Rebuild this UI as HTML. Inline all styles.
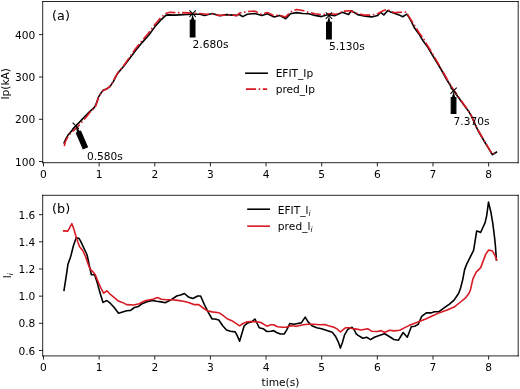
<!DOCTYPE html>
<html><head><meta charset="utf-8"><style>html,body{margin:0;padding:0;background:#fff;overflow:hidden}svg{display:block}</style></head>
<body>
<svg width="520" height="389" viewBox="0 0 520 389" version="1.1">
 <defs>
  <style type="text/css">*{stroke-linejoin: round; stroke-linecap: butt}</style>
 </defs>
 <g id="figure_1">
  <g id="patch_1">
   <path d="M 0 389 L 520 389 L 520 0 L 0 0 z
" style="fill: #ffffff"/>
  </g>
  <g id="axes_1">
   <g id="patch_2">
    <path d="M 42.7 162.7 L 518.2 162.7 L 518.2 1.5 L 42.7 1.5 z
" style="fill: #ffffff"/>
   </g>
   <g id="matplotlib.axis_1">
    <g id="xtick_1">
     <g id="line2d_1">
      <g>
       <path d="M 0 0 L 0 3.71875" transform="translate(43.5 162.7)" style="stroke: #000000; stroke-width: 0.85"/>
      </g>
     </g>
     <g id="text_1">
      <text style="font-size: 10.625px; font-family: 'DejaVu Sans', 'Liberation Sans', sans-serif; text-anchor: middle" x="43.5" y="178.21084" transform="rotate(-0 43.5 178.21084)">0</text>
     </g>
    </g>
    <g id="xtick_2">
     <g id="line2d_2">
      <g>
       <path d="M 0 0 L 0 3.71875" transform="translate(99.14 162.7)" style="stroke: #000000; stroke-width: 0.85"/>
      </g>
     </g>
     <g id="text_2">
      <text style="font-size: 10.625px; font-family: 'DejaVu Sans', 'Liberation Sans', sans-serif; text-anchor: middle" x="99.14" y="178.21084" transform="rotate(-0 99.14 178.21084)">1</text>
     </g>
    </g>
    <g id="xtick_3">
     <g id="line2d_3">
      <g>
       <path d="M 0 0 L 0 3.71875" transform="translate(154.78 162.7)" style="stroke: #000000; stroke-width: 0.85"/>
      </g>
     </g>
     <g id="text_3">
      <text style="font-size: 10.625px; font-family: 'DejaVu Sans', 'Liberation Sans', sans-serif; text-anchor: middle" x="154.78" y="178.21084" transform="rotate(-0 154.78 178.21084)">2</text>
     </g>
    </g>
    <g id="xtick_4">
     <g id="line2d_4">
      <g>
       <path d="M 0 0 L 0 3.71875" transform="translate(210.42 162.7)" style="stroke: #000000; stroke-width: 0.85"/>
      </g>
     </g>
     <g id="text_4">
      <text style="font-size: 10.625px; font-family: 'DejaVu Sans', 'Liberation Sans', sans-serif; text-anchor: middle" x="210.42" y="178.21084" transform="rotate(-0 210.42 178.21084)">3</text>
     </g>
    </g>
    <g id="xtick_5">
     <g id="line2d_5">
      <g>
       <path d="M 0 0 L 0 3.71875" transform="translate(266.06 162.7)" style="stroke: #000000; stroke-width: 0.85"/>
      </g>
     </g>
     <g id="text_5">
      <text style="font-size: 10.625px; font-family: 'DejaVu Sans', 'Liberation Sans', sans-serif; text-anchor: middle" x="266.06" y="178.21084" transform="rotate(-0 266.06 178.21084)">4</text>
     </g>
    </g>
    <g id="xtick_6">
     <g id="line2d_6">
      <g>
       <path d="M 0 0 L 0 3.71875" transform="translate(321.7 162.7)" style="stroke: #000000; stroke-width: 0.85"/>
      </g>
     </g>
     <g id="text_6">
      <text style="font-size: 10.625px; font-family: 'DejaVu Sans', 'Liberation Sans', sans-serif; text-anchor: middle" x="321.7" y="178.21084" transform="rotate(-0 321.7 178.21084)">5</text>
     </g>
    </g>
    <g id="xtick_7">
     <g id="line2d_7">
      <g>
       <path d="M 0 0 L 0 3.71875" transform="translate(377.34 162.7)" style="stroke: #000000; stroke-width: 0.85"/>
      </g>
     </g>
     <g id="text_7">
      <text style="font-size: 10.625px; font-family: 'DejaVu Sans', 'Liberation Sans', sans-serif; text-anchor: middle" x="377.34" y="178.21084" transform="rotate(-0 377.34 178.21084)">6</text>
     </g>
    </g>
    <g id="xtick_8">
     <g id="line2d_8">
      <g>
       <path d="M 0 0 L 0 3.71875" transform="translate(432.98 162.7)" style="stroke: #000000; stroke-width: 0.85"/>
      </g>
     </g>
     <g id="text_8">
      <text style="font-size: 10.625px; font-family: 'DejaVu Sans', 'Liberation Sans', sans-serif; text-anchor: middle" x="432.98" y="178.21084" transform="rotate(-0 432.98 178.21084)">7</text>
     </g>
    </g>
    <g id="xtick_9">
     <g id="line2d_9">
      <g>
       <path d="M 0 0 L 0 3.71875" transform="translate(488.62 162.7)" style="stroke: #000000; stroke-width: 0.85"/>
      </g>
     </g>
     <g id="text_9">
      <text style="font-size: 10.625px; font-family: 'DejaVu Sans', 'Liberation Sans', sans-serif; text-anchor: middle" x="488.62" y="178.21084" transform="rotate(-0 488.62 178.21084)">8</text>
     </g>
    </g>
   </g>
   <g id="matplotlib.axis_2">
    <g id="ytick_1">
     <g id="line2d_10">
      <g>
       <path d="M 0 0 L -3.71875 0" transform="translate(42.7 161.6)" style="stroke: #000000; stroke-width: 0.85"/>
      </g>
     </g>
     <g id="text_10">
      <text style="font-size: 10.625px; font-family: 'DejaVu Sans', 'Liberation Sans', sans-serif; text-anchor: end" x="35.2625" y="165.63667" transform="rotate(-0 35.2625 165.63667)">100</text>
     </g>
    </g>
    <g id="ytick_2">
     <g id="line2d_11">
      <g>
       <path d="M 0 0 L -3.71875 0" transform="translate(42.7 119.28)" style="stroke: #000000; stroke-width: 0.85"/>
      </g>
     </g>
     <g id="text_11">
      <text style="font-size: 10.625px; font-family: 'DejaVu Sans', 'Liberation Sans', sans-serif; text-anchor: end" x="35.2625" y="123.31667" transform="rotate(-0 35.2625 123.31667)">200</text>
     </g>
    </g>
    <g id="ytick_3">
     <g id="line2d_12">
      <g>
       <path d="M 0 0 L -3.71875 0" transform="translate(42.7 76.96)" style="stroke: #000000; stroke-width: 0.85"/>
      </g>
     </g>
     <g id="text_12">
      <text style="font-size: 10.625px; font-family: 'DejaVu Sans', 'Liberation Sans', sans-serif; text-anchor: end" x="35.2625" y="80.99667" transform="rotate(-0 35.2625 80.99667)">300</text>
     </g>
    </g>
    <g id="ytick_4">
     <g id="line2d_13">
      <g>
       <path d="M 0 0 L -3.71875 0" transform="translate(42.7 34.64)" style="stroke: #000000; stroke-width: 0.85"/>
      </g>
     </g>
     <g id="text_13">
      <text style="font-size: 10.625px; font-family: 'DejaVu Sans', 'Liberation Sans', sans-serif; text-anchor: end" x="35.2625" y="38.67667" transform="rotate(-0 35.2625 38.67667)">400</text>
     </g>
    </g>
    <g id="ylab1" transform="translate(0 1.70)">
     <text style="font-size: 10.625px; font-family: 'DejaVu Sans', 'Liberation Sans', sans-serif; text-anchor: middle" x="8.522363" y="82.1" transform="rotate(-90 8.522363 82.1)">Ip(kA)</text>
    </g>
   </g>
   <g id="line2d_14">
    <path d="M 64.1 142.9 L 66.1 138.4 L 67.9 135.3 L 71.5 131 L 75.5 126.3 L 78.7 123 L 81.9 119.6 L 85 116.3 L 89.7 111.6 L 93.6 108.2 L 95.4 105.8 L 97.1 101.3 L 98.3 97.4 L 101 92.9 L 103.4 90 L 106.4 89.1 L 109.9 86.6 L 113.3 81.6 L 115.8 76.6 L 118.2 72.6 L 122.9 67.3 L 129.4 58.8 L 135.8 50.2 L 142.1 42.6 L 148.9 35 L 155 26.6 L 160.4 20.4 L 165.8 15.4 L 168.1 14.9 L 175.4 15.1 L 183.1 14.6 L 192.3 14.2 L 200 14.2 L 204.6 15.4 L 212.3 13.5 L 220 15.7 L 226.2 14.6 L 232.3 15.1 L 236.9 15.4 L 238.8 14.2 L 242.7 16.6 L 247.3 14.2 L 255 13.5 L 261.9 15.4 L 267.3 13.8 L 274.2 16.9 L 279.6 15.4 L 285.8 18.8 L 290.4 13.8 L 296.5 12.6 L 302.7 13.5 L 308.8 13.8 L 315 15.4 L 321.5 16.6 L 328.5 14.6 L 334.6 15.7 L 342.3 12.3 L 348.5 14.6 L 351.5 10.8 L 357.7 14.6 L 365.4 16.2 L 371.5 16.9 L 377.7 15.4 L 380.8 12.3 L 383.8 15 L 387.8 10.5 L 390.7 12 L 394.9 13.4 L 399.1 14.9 L 402.7 16.7 L 406.9 14.1 L 410.5 19.8 L 414.7 28.3 L 418.9 33.9 L 423.2 41 L 427.4 46.7 L 432.4 55 L 440 67.5 L 447 80 L 453.3 90.3 L 456.7 95 L 463.4 104.2 L 468.4 110.9 L 471.7 116.7 L 475.1 124.3 L 478 130.5 L 483.5 140 L 488.1 147.7 L 492.3 154.7 L 496.4 152.2 
" style="fill: none; stroke: #000000; stroke-width: 1.59375; stroke-linecap: square"/>
   </g>
   <g id="line2d_15">
    <path d="M 64.3 146.1 L 65.2 142 L 67 138.4 L 69.7 134.4 L 73.3 130.8 L 76.9 127.6 L 80.5 123.6 L 84.1 119.5 L 86.8 116.4 L 89.9 112.3 L 93.8 108.6 L 95.6 106.2 L 97.3 101.5 L 98.5 97.6 L 101.1 93.1 L 103.4 90.2 L 106.4 89.2 L 109.9 86.5 L 113.3 81.3 L 115.8 76.2 L 118.2 72.2 L 122.8 66.8 L 128.8 58.4 L 135.1 49.2 L 141.4 41.5 L 148 33.7 L 154.1 25.4 L 159.4 19.2 L 163 15.8 L 165.7 13.4 L 169.7 12.3 L 175.4 12.6 L 183.1 12.6 L 192.3 13.1 L 200 13.5 L 206.2 14.2 L 212.3 13.8 L 218.5 15.4 L 224.6 15.1 L 230.8 14.6 L 236.9 15.7 L 239.6 13.1 L 247.3 11.5 L 255 11.1 L 261.2 14.2 L 267.3 12.6 L 273.5 15.4 L 279.6 15.4 L 285.8 16.9 L 290.4 12 L 296.5 9.5 L 302.7 10.5 L 308.8 12.3 L 315 13.8 L 322.3 14.6 L 328.5 13.8 L 336.2 14.2 L 343.8 11.1 L 350 10.8 L 356.2 13.1 L 363.8 15.1 L 371.5 15.1 L 377.7 13.8 L 382.3 11.1 L 387.3 9.3 L 390.7 11.3 L 394.9 12.7 L 398.4 12.4 L 406.2 12 L 408.3 15.6 L 411.9 21.2 L 415.4 26.9 L 418.9 32.5 L 423.2 38.2 L 427.4 45.3 L 431.7 52.3 L 440 66.5 L 447 79 L 453.3 89.5 L 456.7 94.5 L 463.4 103.8 L 468.4 110.5 L 471.7 116.3 L 475.1 123.8 L 478 130 L 483.5 139.5 L 488.1 147.2 L 492.3 154.3 L 496.6 151.8 
" style="fill: none; stroke-dasharray: 10.2,2.55,1.59375,2.55; stroke-dashoffset: 0; stroke: #d81a24; stroke-width: 1.59375"/>
   </g>
   <g id="line2d_16">
    <g>
     <path d="M -3.1875 3.1875 L 3.1875 -3.1875 M -3.1875 -3.1875 L 3.1875 3.1875" transform="translate(75.7712 125.8)" style="stroke: #000000; stroke-width: 1.0625"/>
    </g>
   </g>
   <g id="line2d_17">
    <g>
     <path d="M -3.1875 3.1875 L 3.1875 -3.1875 M -3.1875 -3.1875 L 3.1875 3.1875" transform="translate(192.6152 13.6)" style="stroke: #000000; stroke-width: 1.0625"/>
    </g>
   </g>
   <g id="line2d_18">
    <g>
     <path d="M -3.1875 3.1875 L 3.1875 -3.1875 M -3.1875 -3.1875 L 3.1875 3.1875" transform="translate(328.9332 15.6)" style="stroke: #000000; stroke-width: 1.0625"/>
    </g>
   </g>
   <g id="line2d_19">
    <g>
     <path d="M -3.1875 3.1875 L 3.1875 -3.1875 M -3.1875 -3.1875 L 3.1875 3.1875" transform="translate(453.5668 90.8)" style="stroke: #000000; stroke-width: 1.0625"/>
    </g>
   </g>
   <g id="patch_3">
    <path d="M 42.7 162.7 L 42.7 1.5 
" style="fill: none; stroke: #000000; stroke-width: 0.85; stroke-linejoin: miter; stroke-linecap: square"/>
   </g>
   <g id="patch_4">
    <path d="M 518.2 162.7 L 518.2 1.5 
" style="fill: none; stroke: #000000; stroke-width: 0.85; stroke-linejoin: miter; stroke-linecap: square"/>
   </g>
   <g id="patch_5">
    <path d="M 42.7 162.7 L 518.2 162.7 
" style="fill: none; stroke: #000000; stroke-width: 0.85; stroke-linejoin: miter; stroke-linecap: square"/>
   </g>
   <g id="patch_6">
    <path d="M 42.7 1.5 L 518.2 1.5 
" style="fill: none; stroke: #000000; stroke-width: 0.85; stroke-linejoin: miter; stroke-linecap: square"/>
   </g>
   <g id="text_14">
    <text style="font-size: 12.75px; font-family: 'DejaVu Sans', 'Liberation Sans', sans-serif; text-anchor: start" x="52.1" y="20.3" transform="rotate(-0 52.1 20.3)">(a)</text>
   </g>
   <g id="text_15">
    <text style="font-size: 10.625px; font-family: 'DejaVu Sans', 'Liberation Sans', sans-serif; text-anchor: start" x="86.9" y="160.2" transform="rotate(-0 86.9 160.2)">0.580s</text>
   </g>
   <g id="text_16">
    <text style="font-size: 10.625px; font-family: 'DejaVu Sans', 'Liberation Sans', sans-serif; text-anchor: start" x="192.6" y="48.46" transform="rotate(-0 192.6 48.46)">2.680s</text>
   </g>
   <g id="text_17">
    <text style="font-size: 10.625px; font-family: 'DejaVu Sans', 'Liberation Sans', sans-serif; text-anchor: start" x="328.9" y="50.46" transform="rotate(-0 328.9 50.46)">5.130s</text>
   </g>
   <g id="text_18">
    <text style="font-size: 10.625px; font-family: 'DejaVu Sans', 'Liberation Sans', sans-serif; text-anchor: start" x="453.6" y="124.9" transform="rotate(-0 453.6 124.9)">7.370s</text>
   </g>
   <g id="legend_1">
    <g id="line2d_20">
     <path d="M 245.900488 73.219824 L 256.525488 73.219824 L 267.150488 73.219824 
" style="fill: none; stroke: #000000; stroke-width: 1.59375; stroke-linecap: square"/>
    </g>
    <g id="leg1text0" transform="translate(0 0.50)">
     <text style="font-size: 10.625px; font-family: 'DejaVu Sans', 'Liberation Sans', sans-serif; text-anchor: start" x="275.650488" y="76.938574" transform="rotate(-0 275.650488 76.938574)">EFIT_Ip</text>
    </g>
    <g id="line2d_21">
     <path d="M 245.900488 89.11084 L 256.525488 89.11084 L 267.150488 89.11084 
" style="fill: none; stroke-dasharray: 10.2,2.55,1.59375,2.55; stroke-dashoffset: 0; stroke: #d81a24; stroke-width: 1.59375"/>
    </g>
    <g id="leg1text1" transform="translate(0 0.50)">
     <text style="font-size: 10.625px; font-family: 'DejaVu Sans', 'Liberation Sans', sans-serif; text-anchor: start" x="275.650488" y="92.82959" transform="rotate(-0 275.650488 92.82959)">pred_Ip</text>
    </g>
   </g>
  </g>
  <g id="axes_2">
   <g id="patch_7">
    <path d="M 42.7 355.9 L 518.2 355.9 L 518.2 195.3 L 42.7 195.3 z
" style="fill: #ffffff"/>
   </g>
   <g id="matplotlib.axis_3">
    <g id="xtick_10">
     <g id="line2d_22">
      <g>
       <path d="M 0 0 L 0 3.71875" transform="translate(43.5 355.9)" style="stroke: #000000; stroke-width: 0.85"/>
      </g>
     </g>
     <g id="text_19">
      <text style="font-size: 10.625px; font-family: 'DejaVu Sans', 'Liberation Sans', sans-serif; text-anchor: middle" x="43.5" y="371.41084" transform="rotate(-0 43.5 371.41084)">0</text>
     </g>
    </g>
    <g id="xtick_11">
     <g id="line2d_23">
      <g>
       <path d="M 0 0 L 0 3.71875" transform="translate(99.14 355.9)" style="stroke: #000000; stroke-width: 0.85"/>
      </g>
     </g>
     <g id="text_20">
      <text style="font-size: 10.625px; font-family: 'DejaVu Sans', 'Liberation Sans', sans-serif; text-anchor: middle" x="99.14" y="371.41084" transform="rotate(-0 99.14 371.41084)">1</text>
     </g>
    </g>
    <g id="xtick_12">
     <g id="line2d_24">
      <g>
       <path d="M 0 0 L 0 3.71875" transform="translate(154.78 355.9)" style="stroke: #000000; stroke-width: 0.85"/>
      </g>
     </g>
     <g id="text_21">
      <text style="font-size: 10.625px; font-family: 'DejaVu Sans', 'Liberation Sans', sans-serif; text-anchor: middle" x="154.78" y="371.41084" transform="rotate(-0 154.78 371.41084)">2</text>
     </g>
    </g>
    <g id="xtick_13">
     <g id="line2d_25">
      <g>
       <path d="M 0 0 L 0 3.71875" transform="translate(210.42 355.9)" style="stroke: #000000; stroke-width: 0.85"/>
      </g>
     </g>
     <g id="text_22">
      <text style="font-size: 10.625px; font-family: 'DejaVu Sans', 'Liberation Sans', sans-serif; text-anchor: middle" x="210.42" y="371.41084" transform="rotate(-0 210.42 371.41084)">3</text>
     </g>
    </g>
    <g id="xtick_14">
     <g id="line2d_26">
      <g>
       <path d="M 0 0 L 0 3.71875" transform="translate(266.06 355.9)" style="stroke: #000000; stroke-width: 0.85"/>
      </g>
     </g>
     <g id="text_23">
      <text style="font-size: 10.625px; font-family: 'DejaVu Sans', 'Liberation Sans', sans-serif; text-anchor: middle" x="266.06" y="371.41084" transform="rotate(-0 266.06 371.41084)">4</text>
     </g>
    </g>
    <g id="xtick_15">
     <g id="line2d_27">
      <g>
       <path d="M 0 0 L 0 3.71875" transform="translate(321.7 355.9)" style="stroke: #000000; stroke-width: 0.85"/>
      </g>
     </g>
     <g id="text_24">
      <text style="font-size: 10.625px; font-family: 'DejaVu Sans', 'Liberation Sans', sans-serif; text-anchor: middle" x="321.7" y="371.41084" transform="rotate(-0 321.7 371.41084)">5</text>
     </g>
    </g>
    <g id="xtick_16">
     <g id="line2d_28">
      <g>
       <path d="M 0 0 L 0 3.71875" transform="translate(377.34 355.9)" style="stroke: #000000; stroke-width: 0.85"/>
      </g>
     </g>
     <g id="text_25">
      <text style="font-size: 10.625px; font-family: 'DejaVu Sans', 'Liberation Sans', sans-serif; text-anchor: middle" x="377.34" y="371.41084" transform="rotate(-0 377.34 371.41084)">6</text>
     </g>
    </g>
    <g id="xtick_17">
     <g id="line2d_29">
      <g>
       <path d="M 0 0 L 0 3.71875" transform="translate(432.98 355.9)" style="stroke: #000000; stroke-width: 0.85"/>
      </g>
     </g>
     <g id="text_26">
      <text style="font-size: 10.625px; font-family: 'DejaVu Sans', 'Liberation Sans', sans-serif; text-anchor: middle" x="432.98" y="371.41084" transform="rotate(-0 432.98 371.41084)">7</text>
     </g>
    </g>
    <g id="xtick_18">
     <g id="line2d_30">
      <g>
       <path d="M 0 0 L 0 3.71875" transform="translate(488.62 355.9)" style="stroke: #000000; stroke-width: 0.85"/>
      </g>
     </g>
     <g id="text_27">
      <text style="font-size: 10.625px; font-family: 'DejaVu Sans', 'Liberation Sans', sans-serif; text-anchor: middle" x="488.62" y="371.41084" transform="rotate(-0 488.62 371.41084)">8</text>
     </g>
    </g>
    <g id="text_28">
     <text style="font-size: 10.625px; font-family: 'DejaVu Sans', 'Liberation Sans', sans-serif; text-anchor: middle" x="280.45" y="385.943848" transform="rotate(-0 280.45 385.943848)">time(s)</text>
    </g>
   </g>
   <g id="matplotlib.axis_4">
    <g id="ytick_5">
     <g id="line2d_31">
      <g>
       <path d="M 0 0 L -3.71875 0" transform="translate(42.7 350.5)" style="stroke: #000000; stroke-width: 0.85"/>
      </g>
     </g>
     <g id="text_29">
      <text style="font-size: 10.625px; font-family: 'DejaVu Sans', 'Liberation Sans', sans-serif; text-anchor: end" x="35.2625" y="354.53667" transform="rotate(-0 35.2625 354.53667)">0.6</text>
     </g>
    </g>
    <g id="ytick_6">
     <g id="line2d_32">
      <g>
       <path d="M 0 0 L -3.71875 0" transform="translate(42.7 323.33)" style="stroke: #000000; stroke-width: 0.85"/>
      </g>
     </g>
     <g id="text_30">
      <text style="font-size: 10.625px; font-family: 'DejaVu Sans', 'Liberation Sans', sans-serif; text-anchor: end" x="35.2625" y="327.36667" transform="rotate(-0 35.2625 327.36667)">0.8</text>
     </g>
    </g>
    <g id="ytick_7">
     <g id="line2d_33">
      <g>
       <path d="M 0 0 L -3.71875 0" transform="translate(42.7 296.16)" style="stroke: #000000; stroke-width: 0.85"/>
      </g>
     </g>
     <g id="text_31">
      <text style="font-size: 10.625px; font-family: 'DejaVu Sans', 'Liberation Sans', sans-serif; text-anchor: end" x="35.2625" y="300.19667" transform="rotate(-0 35.2625 300.19667)">1.0</text>
     </g>
    </g>
    <g id="ytick_8">
     <g id="line2d_34">
      <g>
       <path d="M 0 0 L -3.71875 0" transform="translate(42.7 268.99)" style="stroke: #000000; stroke-width: 0.85"/>
      </g>
     </g>
     <g id="text_32">
      <text style="font-size: 10.625px; font-family: 'DejaVu Sans', 'Liberation Sans', sans-serif; text-anchor: end" x="35.2625" y="273.02667" transform="rotate(-0 35.2625 273.02667)">1.2</text>
     </g>
    </g>
    <g id="ytick_9">
     <g id="line2d_35">
      <g>
       <path d="M 0 0 L -3.71875 0" transform="translate(42.7 241.82)" style="stroke: #000000; stroke-width: 0.85"/>
      </g>
     </g>
     <g id="text_33">
      <text style="font-size: 10.625px; font-family: 'DejaVu Sans', 'Liberation Sans', sans-serif; text-anchor: end" x="35.2625" y="245.85667" transform="rotate(-0 35.2625 245.85667)">1.4</text>
     </g>
    </g>
    <g id="ytick_10">
     <g id="line2d_36">
      <g>
       <path d="M 0 0 L -3.71875 0" transform="translate(42.7 214.65)" style="stroke: #000000; stroke-width: 0.85"/>
      </g>
     </g>
     <g id="text_34">
      <text style="font-size: 10.625px; font-family: 'DejaVu Sans', 'Liberation Sans', sans-serif; text-anchor: end" x="35.2625" y="218.68667" transform="rotate(-0 35.2625 218.68667)">1.6</text>
     </g>
    </g>
    <g id="text_35">
     <g transform="translate(11.905762 278.309375) rotate(-90)">
      <text>
       <tspan x="0" y="-0.640625" style="font-size: 10.625px; font-family: 'DejaVu Sans', 'Liberation Sans', sans-serif">l</tspan>
       <tspan x="3.057239" y="1.164062" style="font-style: oblique; font-size: 7.4375px; font-family: 'DejaVu Sans', 'Liberation Sans', sans-serif">i</tspan>
      </text>
     </g>
    </g>
   </g>
   <g id="line2d_37">
    <path d="M 64 290.3 L 66.3 275.6 L 67.9 264.6 L 70.2 258 L 71.1 255 L 73.4 245.8 L 76.3 237.5 L 79.1 238.6 L 80.6 241.1 L 87.1 255 L 89.3 265.5 L 91.4 274.8 L 94.6 274.8 L 97.2 282.5 L 99.8 292.1 L 103 302.4 L 106.9 300.5 L 110.7 303.7 L 114.2 307.5 L 118.5 313.3 L 126.7 310.8 L 130.6 310.4 L 134.4 307.5 L 138.3 306.5 L 142.1 303.7 L 146.9 301.7 L 152.7 300.4 L 156.5 301.2 L 161.3 301.9 L 165.2 302.7 L 171 299.8 L 176.7 296 L 180.6 295 L 184.4 293.5 L 188.3 296.9 L 192.9 298.5 L 197.7 296 L 200.6 296 L 204.4 304.6 L 208.3 312.3 L 212.1 319 L 215 319 L 218.8 320 L 222.7 325.8 L 226.5 330 L 230.4 331.2 L 235.2 331.9 L 237.1 335.4 L 239.6 341.2 L 244.2 325.8 L 247.7 322.9 L 251.5 321.9 L 255 319 L 259.2 327.7 L 263.1 328.7 L 266.9 331.5 L 270.8 331.2 L 273.7 330.6 L 276.5 332.5 L 280.4 334 L 284.2 334 L 286.9 329.6 L 289.8 323.5 L 293.7 324.2 L 301.3 322.9 L 305.2 317.1 L 308.1 321.9 L 311.9 325.8 L 316.7 327.7 L 321.5 328.7 L 332.3 332.3 L 335.4 336.2 L 338.5 342.4 L 340.4 348.1 L 342.4 342.4 L 344.7 334.6 L 347.8 329.3 L 352 327.3 L 354.3 330 L 356.2 333.9 L 358.1 335.4 L 362.9 338.3 L 366.7 337.3 L 370.6 339.6 L 374.4 337.3 L 379.2 335.4 L 384.6 333.7 L 389.3 336.5 L 393.9 339.5 L 398.5 340.2 L 403.1 332.5 L 407.3 337.2 L 411.3 326.8 L 414.7 326.3 L 418.2 324.4 L 421.7 316.3 L 426.3 312.9 L 430.9 312.9 L 434.4 311.7 L 439 311.7 L 443.7 308.2 L 449.4 304.1 L 454.1 300.1 L 458.7 293.2 L 460.6 288 L 462.7 279.8 L 464.6 269.6 L 466.6 264.4 L 473.6 250.3 L 476.7 231 L 478.6 231.6 L 480.6 232.5 L 485.1 222.6 L 486.7 215.6 L 488.5 202.1 L 490.8 211.7 L 492.8 223.3 L 494.7 238.7 L 495.5 247 L 496.4 259.9 L 496.4 259.9 
" style="fill: none; stroke: #000000; stroke-width: 1.59375; stroke-linecap: square"/>
   </g>
   <g id="line2d_38">
    <path d="M 63.7 230.9 L 67.8 231.1 L 71.9 223.7 L 73.9 229.3 L 76 236.5 L 78.1 242.7 L 79.6 246.8 L 82.7 250.5 L 85.5 256.5 L 87.6 262.6 L 90.1 269 L 92.7 271.6 L 95.3 274.8 L 97.9 281.2 L 100.4 287 L 103.6 293.2 L 106.9 290.8 L 110.7 294.7 L 114.6 297.9 L 118.4 301.1 L 122.3 302.4 L 126.7 304.6 L 133.5 305 L 139.2 303.7 L 145 300.8 L 152.7 299.2 L 157.5 297.5 L 161.3 299.2 L 166.2 299.8 L 171.9 299.8 L 177.7 300.4 L 183.5 301.2 L 189.2 302.7 L 193.8 304.6 L 198.7 304.6 L 202.5 307.5 L 207.3 310.8 L 212.1 311.9 L 218.8 312.7 L 222.7 315.2 L 227.5 319 L 231.3 320.4 L 235.2 322.9 L 239.6 325.8 L 242.9 323.5 L 246.7 321.9 L 251.5 321.5 L 256.3 321.9 L 260.2 322.3 L 263.1 323.8 L 266.9 326.2 L 270.8 324.8 L 273.7 324.8 L 277.5 326.7 L 282.3 327.3 L 286.2 327.3 L 290.8 325.8 L 296.5 326.2 L 303.3 324.8 L 308.1 324.2 L 313.8 324.2 L 319.6 324.8 L 324.6 324.6 L 328.5 325.8 L 333.9 327.3 L 337 328.9 L 340.4 332 L 343.1 329.6 L 345.8 327.7 L 349.3 327.7 L 352.4 328.5 L 355.5 328.9 L 361 330 L 367.7 328.7 L 371.5 331.2 L 377.3 331.5 L 381.2 330.6 L 384.6 332.5 L 389.3 330.2 L 393.9 330.9 L 399.7 330.2 L 404.3 327.9 L 408.9 325.6 L 414.7 323.3 L 420.5 321 L 426.3 318.7 L 433.2 315.6 L 440.2 312.4 L 447.1 310.1 L 454.1 307.1 L 459.9 302.5 L 465.6 297.8 L 469.1 293.2 L 470.4 290 L 473 278.6 L 476.2 272.1 L 480.7 267.6 L 483.3 260.6 L 485.8 254.1 L 488.7 250 L 492.3 250.9 L 494.2 254.1 L 496.1 258 L 496.6 259.9 
" style="fill: none; stroke: #d81a24; stroke-width: 1.59375; stroke-linecap: square"/>
   </g>
   <g id="patch_8">
    <path d="M 42.7 355.9 L 42.7 195.3 
" style="fill: none; stroke: #000000; stroke-width: 0.85; stroke-linejoin: miter; stroke-linecap: square"/>
   </g>
   <g id="patch_9">
    <path d="M 518.2 355.9 L 518.2 195.3 
" style="fill: none; stroke: #000000; stroke-width: 0.85; stroke-linejoin: miter; stroke-linecap: square"/>
   </g>
   <g id="patch_10">
    <path d="M 42.7 355.9 L 518.2 355.9 
" style="fill: none; stroke: #000000; stroke-width: 0.85; stroke-linejoin: miter; stroke-linecap: square"/>
   </g>
   <g id="patch_11">
    <path d="M 42.7 195.3 L 518.2 195.3 
" style="fill: none; stroke: #000000; stroke-width: 0.85; stroke-linejoin: miter; stroke-linecap: square"/>
   </g>
   <g id="text_36">
    <text style="font-size: 12.75px; font-family: 'DejaVu Sans', 'Liberation Sans', sans-serif; text-anchor: start" x="52.1" y="213.4" transform="rotate(-0 52.1 213.4)">(b)</text>
   </g>
   <g id="legend_2">
    <g id="leg2line0">
     <path d="M 247.990625 209.21875 L 258.615625 209.21875 L 269.240625 209.21875 
" style="fill: none; stroke: #000000; stroke-width: 1.59375; stroke-linecap: square"/>
    </g>
    <g id="leg2text0" transform="translate(0 1.60)">
     <g transform="translate(277.740625 212.9375)">
      <text>
       <tspan x="0" y="-0.640625" style="font-size: 10.625px; font-family: 'DejaVu Sans', 'Liberation Sans', sans-serif">E</tspan>
       <tspan x="6.713257" y="-0.640625" style="font-size: 10.625px; font-family: 'DejaVu Sans', 'Liberation Sans', sans-serif">F</tspan>
       <tspan x="12.824707" y="-0.640625" style="font-size: 10.625px; font-family: 'DejaVu Sans', 'Liberation Sans', sans-serif">I</tspan>
       <tspan x="15.958252" y="-0.640625" style="font-size: 10.625px; font-family: 'DejaVu Sans', 'Liberation Sans', sans-serif">T</tspan>
       <tspan x="22.448425" y="-0.640625" style="font-size: 10.625px; font-family: 'DejaVu Sans', 'Liberation Sans', sans-serif">_</tspan>
       <tspan x="27.760925" y="-0.640625" style="font-size: 10.625px; font-family: 'DejaVu Sans', 'Liberation Sans', sans-serif">l</tspan>
       <tspan x="30.818164" y="1.164062" style="font-style: oblique; font-size: 7.4375px; font-family: 'DejaVu Sans', 'Liberation Sans', sans-serif">i</tspan>
      </text>
     </g>
    </g>
    <g id="leg2line1" transform="translate(0 1.00)">
     <path d="M 247.990625 225.15625 L 258.615625 225.15625 L 269.240625 225.15625 
" style="fill: none; stroke: #d81a24; stroke-width: 1.59375; stroke-linecap: square"/>
    </g>
    <g id="leg2text1" transform="translate(0 1.90)">
     <g transform="translate(277.740625 228.875)">
      <text>
       <tspan x="0" y="-0.640625" style="font-size: 10.625px; font-family: 'DejaVu Sans', 'Liberation Sans', sans-serif">p</tspan>
       <tspan x="6.744385" y="-0.640625" style="font-size: 10.625px; font-family: 'DejaVu Sans', 'Liberation Sans', sans-serif">r</tspan>
       <tspan x="11.112671" y="-0.640625" style="font-size: 10.625px; font-family: 'DejaVu Sans', 'Liberation Sans', sans-serif">e</tspan>
       <tspan x="17.649536" y="-0.640625" style="font-size: 10.625px; font-family: 'DejaVu Sans', 'Liberation Sans', sans-serif">d</tspan>
       <tspan x="24.393921" y="-0.640625" style="font-size: 10.625px; font-family: 'DejaVu Sans', 'Liberation Sans', sans-serif">_</tspan>
       <tspan x="29.706421" y="-0.640625" style="font-size: 10.625px; font-family: 'DejaVu Sans', 'Liberation Sans', sans-serif">l</tspan>
       <tspan x="32.76366" y="1.164062" style="font-style: oblique; font-size: 7.4375px; font-family: 'DejaVu Sans', 'Liberation Sans', sans-serif">i</tspan>
      </text>
     </g>
    </g>
   </g>
  </g>
 </g>
 <g id="arrows"><path d="M 87.48 146.96 L 80.64 131.11 L 79.47 131.61 L 76.79 128.19 L 77.45 132.48 L 76.28 132.99 L 83.12 148.84 Z" style="fill:#000;stroke:#000;stroke-width:1.062;stroke-linejoin:miter"/><path d="M 194.99 36.96 L 194.99 20.40 L 193.72 20.40 L 192.62 16.20 L 191.52 20.40 L 190.24 20.40 L 190.24 36.96 Z" style="fill:#000;stroke:#000;stroke-width:1.062;stroke-linejoin:miter"/><path d="M 331.31 38.96 L 331.31 22.40 L 330.03 22.40 L 328.93 18.20 L 327.83 22.40 L 326.56 22.40 L 326.56 38.96 Z" style="fill:#000;stroke:#000;stroke-width:1.062;stroke-linejoin:miter"/><path d="M 455.94 113.40 L 455.94 97.60 L 454.67 97.60 L 453.57 93.40 L 452.47 97.60 L 451.19 97.60 L 451.19 113.40 Z" style="fill:#000;stroke:#000;stroke-width:1.062;stroke-linejoin:miter"/></g>
</svg>

</body></html>
